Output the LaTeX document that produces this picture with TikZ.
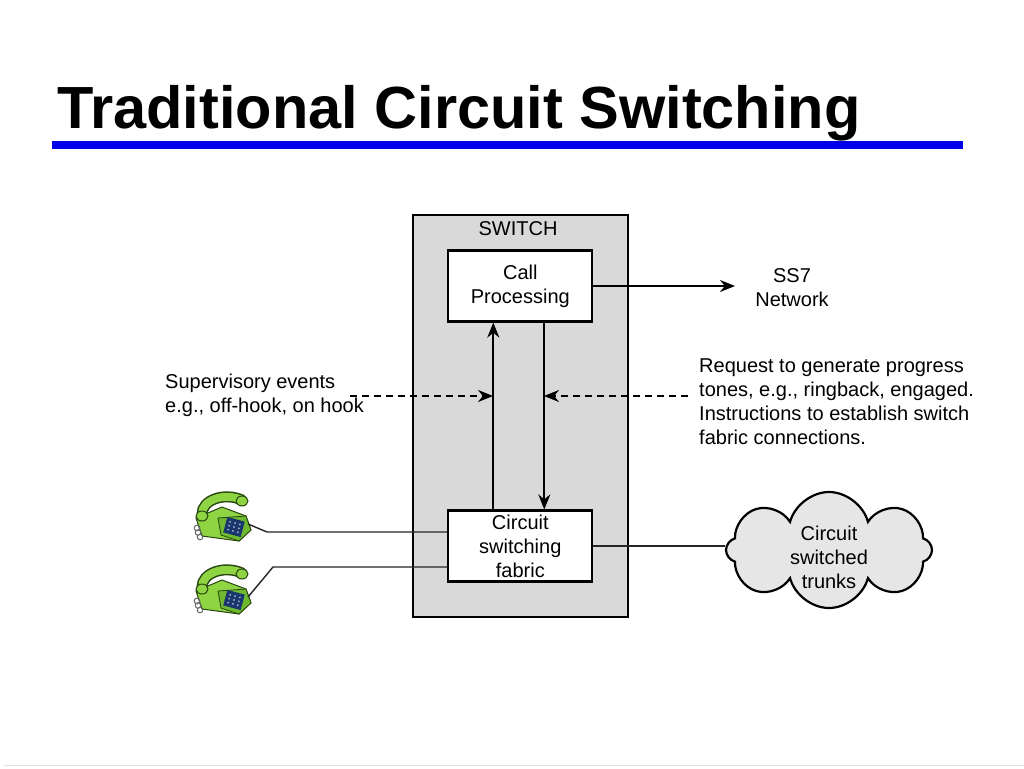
\documentclass[tikz,border=0pt]{standalone}
\usepackage{fontspec}
\setmainfont{Liberation Sans}
\usetikzlibrary{shapes.symbols,arrows.meta}
\definecolor{titleblue}{RGB}{0,0,235}
\definecolor{switchgray}{RGB}{217,217,217}
\definecolor{cloudgray}{RGB}{230,230,230}
\definecolor{phonelime}{RGB}{142,212,67}
\definecolor{phoneface}{RGB}{110,185,45}
\definecolor{phonedark}{RGB}{40,70,15}
\definecolor{dialblue}{RGB}{25,55,110}
\tikzset{
  txt/.style={inner sep=0pt,align=center,font=\fontsize{20}{24}\selectfont},
  box/.style={txt,draw,line width=2.2pt,fill=white,minimum width=144pt,minimum height=71pt},
  arr/.style={line width=2pt,-{Stealth[length=15pt,width=12pt]}},
  dasharr/.style={arr,dash pattern=on 7pt off 5pt},
  wire/.style={line width=1.4pt,draw=black!85},
  phone/.pic={
    \draw[phonedark,line width=11pt,line cap=round]
      (8,20) .. controls (8,6) and (30,-2) .. (48,6);
    \draw[phonelime,line width=8pt,line cap=round]
      (8,20) .. controls (8,6) and (30,-2) .. (48,6);
    \filldraw[fill=phonelime,draw=phonedark,line width=1pt]
      (2,24) -- (28,13) -- (52,22) -- (57,36) -- (45,47) -- (8,42) -- cycle;
    \filldraw[fill=phoneface,draw=phonedark,line width=0.8pt]
      (24,24) -- (52,22) -- (57,36) -- (45,47) -- (27,41) -- cycle;
    \fill[dialblue,rotate around={-15:(40,33)}] (31,25) rectangle (49,41);
    \foreach \i in {0,1,2}
      \foreach \j in {0,1,2}
        \fill[white!65!dialblue,rotate around={-15:(40,33)}]
          (35+5*\i,29+4*\j) circle (1pt);
    \filldraw[fill=phonelime,draw=phonedark,line width=1pt] (8,22) ellipse (6pt and 5pt);
    \filldraw[fill=phonelime,draw=phonedark,line width=1pt] (48,7) ellipse (6pt and 5pt);
    \draw[gray!80!black,line width=1pt]
      (3,34) circle (2.8pt) (4,38.5) circle (2.8pt) (6,43) circle (2.8pt);
    \coordinate (-jack) at (54,30);
  }
}
\begin{document}
\begin{tikzpicture}[x=1pt,y=-1pt]
  \useasboundingbox (0,0) rectangle (1024,768);
  \fill[white] (0,0) rectangle (1024,768);
  \node[anchor=base west,inner sep=0pt,font=\fontsize{59.5}{62}\selectfont\bfseries]
    (title) at (57,128) {Traditional Circuit Switching};
  \fill[titleblue] (52,141) rectangle (963,149);
  \draw[black!12,line width=1pt] (4,765.5) -- (1024,765.5);

  \node[draw,line width=2.2pt,fill=switchgray,minimum width=215pt,minimum height=402pt]
    (switch) at (520.5,416) {};
  \node[txt] (switchlbl) at (518,229) {SWITCH};
  \node[box] (call) at (520.3,286) {Call\\Processing};
  \node[box] (fabric) at (520.3,546) {Circuit\\switching\\fabric};

  \draw[arr] ([xshift=-27pt]fabric.north) -- ([xshift=-27pt]call.south);
  \draw[arr] ([xshift=24pt]call.south) -- ([xshift=24pt]fabric.north);

  \node[txt] (ss7) at (792,288) {SS7\\Network};
  \coordinate (ss7in) at (735,286);
  \draw[arr] (call.east) -- (ss7in);

  \node[txt,align=left,anchor=base west] (super) at (165,412)
    {Supervisory events\\e.g., off-hook, on hook};
  \node[txt,align=left,anchor=base west] (request) at (699,444)
    {Request to generate progress\\tones, e.g., ringback, engaged.\\Instructions to establish switch\\fabric connections.};
  \coordinate (superend) at (350,396);
  \coordinate (upin) at (493,396);
  \coordinate (requestend) at (688,396);
  \coordinate (downin) at (544,396);
  \draw[dasharr] (superend) -- (upin);
  \draw[dasharr] (requestend) -- (downin);

  \node[cloud,cloud puffs=8,aspect=1.8,draw,line width=2.2pt,
    fill=cloudgray,minimum width=206pt,minimum height=116pt,txt] (trunks) at (829,550)
    {\raisebox{-15pt}[0pt][0pt]{\begin{tabular}{@{}c@{}}Circuit\\switched\\trunks\end{tabular}}};
  \draw[wire] (fabric.east) -- (fabric.east -| trunks.west);

  \pic (p1) at (194,494) {phone};
  \pic (p2) at (194,567) {phone};
  \draw[wire] (p1-jack) -- (267,532) -- ([yshift=14pt]fabric.west);
  \draw[wire] (p2-jack) -- (273,567) -- ([yshift=-21pt]fabric.west);
\end{tikzpicture}
\end{document}
